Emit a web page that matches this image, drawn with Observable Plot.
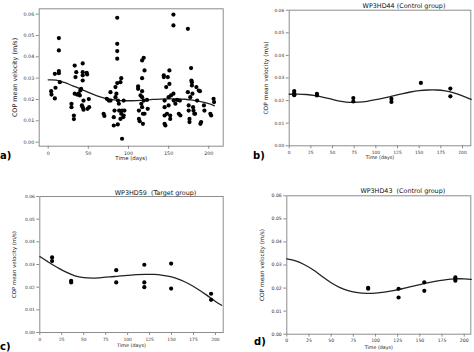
<!DOCTYPE html>
<html><head><meta charset="utf-8">
<script src="https://cdn.jsdelivr.net/npm/d3@7"></script>
<script src="https://cdn.jsdelivr.net/npm/@observablehq/plot@0.6"></script>
<style>
html,body{margin:0;padding:0;background:#fff;width:474px;height:352px;overflow:hidden;font-family:"DejaVu Sans",sans-serif;}
.panel{position:absolute;}
.lbl{position:absolute;font:bold 10px "DejaVu Sans",sans-serif;color:#000;}
</style></head>
<body>
<div id="pa" class="panel" style="left:0;top:0"></div>
<div id="pb" class="panel" style="left:237px;top:0"></div>
<div id="pc" class="panel" style="left:0;top:176px"></div>
<div id="pd" class="panel" style="left:237px;top:176px"></div>
<div class="lbl" style="left:0;top:150px">a)</div>
<div class="lbl" style="left:253px;top:150px">b)</div>
<div class="lbl" style="left:0;top:341px">c)</div>
<div class="lbl" style="left:254px;top:336px">d)</div>
<script>
// Panel a: all participants
const aDays = [3.7,4.1,8.3,9.1,8.3,13.3,13.3,13.3,13.3,14.5,29,29,32,32,33,33,34,35,36,38,40,41,42,43,43,43,43,43,44,44,48,48.5,49,50.6,51,39.4,
69,70,73,75.5,77.6,77.6,81.7,81.7,82.6,83.8,83.8,85,86,86,86,86,86,86.7,87,88,88.4,90,90,91,91,92,92,93.4,94,95,94,
112,112,113,113,114,115,116,117,117,117,117,117,118,118,119,120,119,120,123,124,
144,144,145,145,145,145,146,147,148,149,150,150,151,151,152,152,153,156,156,156,156.4,158.5,160.6,162.7,164,164.7,
174,174,175,175,176,176,177,178,178.4,179,179,179.7,180.5,181,182,183,184.6,185.5,187.5,189,189.6,190.5,194,194.6,202,203,206,206.6];
const aVel = [0.0239,0.0223,0.0205,0.0255,0.0320,0.0488,0.0430,0.0333,0.0323,0.0281,0.0180,0.0164,0.0125,0.0108,0.0359,0.0227,0.0305,0.0328,0.0223,0.0227,0.0242,0.0250,0.0172,0.0164,0.0369,0.0328,0.0313,0.0289,0.0195,0.0152,0.0325,0.0317,0.0156,0.0202,0.0164,0.0219,
0.0133,0.0123,0.0203,0.0195,0.0195,0.0234,0.0117,0.0078,0.0148,0.0258,0.0211,0.0227,0.0583,0.0461,0.0427,0.0391,0.0277,0.0083,0.0195,0.0180,0.0148,0.0281,0.0109,0.0133,0.0300,0.0016,0.0148,0.0117,0.0125,0.0148,0.0195,
0.0261,0.0250,0.0148,0.0109,0.0098,0.0219,0.0180,0.0383,0.0300,0.0239,0.0211,0.0164,0.0133,0.0086,0.0395,0.0336,0.0195,0.0133,0.0198,0.0156,
0.0313,0.0305,0.0195,0.0164,0.0125,0.0086,0.0078,0.0258,0.0133,0.0305,0.0211,0.0172,0.0336,0.0273,0.0125,0.0109,0.0219,0.0598,0.0547,0.0227,0.0195,0.0180,0.0198,0.0133,0.0195,0.0125,
0.0531,0.0234,0.0172,0.0148,0.0094,0.0109,0.0211,0.0347,0.0289,0.0281,0.0266,0.0227,0.0164,0.0148,0.0133,0.0133,0.0258,0.0195,0.0242,0.0239,0.0086,0.0094,0.0172,0.0148,0.0133,0.0125,0.0203,0.0188];
const aFitDays = [0,10,20,30,40,50,60,70,80,90,100,110,120,130,140,150,160,170,180,190,200,207];
const aFitVel = [0.0292,0.0291,0.0280,0.0265,0.0250,0.0233,0.0218,0.0206,0.0199,0.0195,0.0194,0.0195,0.0197,0.0200,0.0202,0.0203,0.0203,0.0201,0.0197,0.0190,0.0180,0.0170];

// Panel b: WP3HD44 (Control group)
const bDays = [5.8,5.8,5.8,32,32,74,74,118,118,152,186,186];
const bVel = [0.0242,0.0233,0.0224,0.0230,0.0223,0.0211,0.0196,0.0208,0.0194,0.0278,0.0253,0.0219];
const bFitDays = [0,10,20,30,40,50,60,70,80,90,100,110,120,130,140,150,160,170,180,190,200,210];
const bFitVel = [0.0228,0.0229,0.0227,0.0222,0.0214,0.0205,0.0197,0.0192,0.0193,0.0197,0.0204,0.0212,0.0221,0.0230,0.0238,0.0244,0.0247,0.0247,0.0243,0.0234,0.0221,0.0205];

// Panel c: WP3HD59 (Target group)
const cDays = [14,14,35.7,35.7,87,87,119,119,119,149.5,149.5,195,195];
const cVel = [0.0331,0.0315,0.0228,0.0221,0.0275,0.0221,0.0299,0.0221,0.0200,0.0304,0.0194,0.0171,0.0144];
const cFitDays = [0,10,20,30,40,50,60,70,80,90,100,110,120,130,140,150,160,170,180,190,200,207];
const cFitVel = [0.0335,0.0310,0.0287,0.0266,0.0250,0.0242,0.0240,0.0242,0.0245,0.0249,0.0252,0.0255,0.0256,0.0256,0.0252,0.0245,0.0232,0.0214,0.0191,0.0165,0.0137,0.0120];

// Panel d: WP3HD43 (Control group)
const dDays = [91.7,91.7,126,126,155,155,190,190,190];
const dVel = [0.0201,0.0197,0.0197,0.0159,0.0225,0.0188,0.0246,0.0239,0.0232];
const dFitDays = [0,10,20,30,40,50,60,70,80,90,100,110,120,130,140,150,160,170,180,190,200,208];
const dFitVel = [0.0327,0.0318,0.0301,0.0278,0.0250,0.0223,0.0202,0.0188,0.0180,0.0177,0.0178,0.0182,0.0189,0.0197,0.0206,0.0215,0.0224,0.0231,0.0237,0.0240,0.0240,0.0238];

const yTicks = [0,0.01,0.02,0.03,0.04,0.05,0.06];
const xTicksA = [0,50,100,150,200];
const xTicksB = [0,25,50,75,100,125,150,175,200];
const yLabel = "COP mean velocity (m/s)";
const xLabel = "Time (days)";

const zip = (xs, ys) => xs.map((x, i) => ({x, y: ys[i]}));

function panel(o) {
  const pts = zip(o.days, o.vel);
  const fit = zip(o.fitDays, o.fitVel);
  const marks = [
    Plot.frame({stroke: "#8c8c8c", strokeWidth: 1}),
    Plot.axisY({ticks: yTicks, tickFormat: d3.format(".2f"), tickSize: 3, tickPadding: 2,
      stroke: "#8c8c8c", fill: "#333", fontSize: o.tickFont, label: null}),
    Plot.axisX({ticks: o.xTicks, tickFormat: d3.format("d"), tickSize: 3, tickPadding: 2,
      stroke: "#8c8c8c", fill: "#333", fontSize: o.tickFont, label: null}),
    Plot.text([yLabel], {frameAnchor: "left", dx: -o.yLabelDist, rotate: -90, text: d => d,
      fontSize: o.yLabelFont, fill: "#222", textAnchor: "middle"}),
    Plot.text([xLabel], {frameAnchor: "bottom", dy: o.xLabelDist, text: d => d,
      fontSize: o.xLabelFont, fill: "#222", lineAnchor: "middle"}),
    Plot.line(fit, {x: "x", y: "y", stroke: "#222", strokeWidth: 1.3, curve: "catmull-rom"}),
    Plot.dot(pts, {x: "x", y: "y", r: 2.1, fill: "#000", stroke: "none"})
  ];
  if (o.title) {
    marks.push(Plot.text([o.title], {frameAnchor: "top", dx: 24, dy: o.titleDy, text: d => d,
      fontSize: 6.4, fill: "#111", lineAnchor: "bottom"}));
  }
  return Plot.plot({
    width: 237, height: 176,
    marginLeft: o.ml, marginRight: o.mr, marginTop: o.mt, marginBottom: o.mb,
    style: {fontFamily: "DejaVu Sans, sans-serif", fontSize: "5px", background: "transparent", overflow: "visible"},
    x: {domain: o.xDomain},
    y: {domain: o.yDomain},
    marks
  });
}

document.getElementById("pa").append(panel({
  days: aDays, vel: aVel, fitDays: aFitDays, fitVel: aFitVel,
  xTicks: xTicksA, xDomain: [-11.2, 218], yDomain: [-0.0019, 0.0625],
  ml: 38.7, mr: 14.3, mt: 8.3, mb: 30.3,
  tickFont: 4.8, yLabelFont: 6.4, xLabelFont: 5.4, yLabelDist: 24.7, xLabelDist: 11.8
}));
document.getElementById("pb").append(panel({
  days: bDays, vel: bVel, fitDays: bFitDays, fitVel: bFitVel,
  xTicks: xTicksB, xDomain: [0, 209.6], yDomain: [0, 0.06],
  ml: 51.7, mr: 3.7, mt: 9.7, mb: 30.7,
  tickFont: 4.4, yLabelFont: 5.9, xLabelFont: 4.8, yLabelDist: 22.7, xLabelDist: 11.5,
  title: "WP3HD44 (Control group)", titleDy: -2.5
}));
document.getElementById("pc").append(panel({
  days: cDays, vel: cVel, fitDays: cFitDays, fitVel: cFitVel,
  xTicks: xTicksB, xDomain: [0, 208.8], yDomain: [0, 0.06],
  ml: 39.3, mr: 14.3, mt: 20, mb: 20,
  tickFont: 4.4, yLabelFont: 5.4, xLabelFont: 4.9, yLabelDist: 25.3, xLabelDist: 13,
  title: "WP3HD59  (Target group)", titleDy: -1.5
}));
document.getElementById("pd").append(panel({
  days: dDays, vel: dVel, fitDays: dFitDays, fitVel: dFitVel,
  xTicks: xTicksB, xDomain: [0, 207.4], yDomain: [0, 0.06],
  ml: 49.3, mr: 3.7, mt: 19.3, mb: 18.3,
  tickFont: 4.6, yLabelFont: 5.8, xLabelFont: 4.8, yLabelDist: 24.3, xLabelDist: 13,
  title: "WP3HD43  (Control group)", titleDy: -2.5
}));
</script>
</body></html>
